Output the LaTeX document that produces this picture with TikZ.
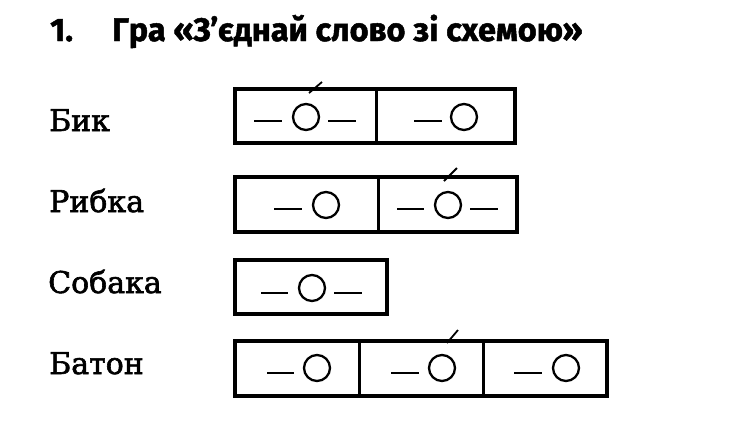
\documentclass[tikz,border=0pt]{standalone}
\usepackage{fontspec}
\setmainfont{DejaVu Serif}
\newfontfamily\titlefont[FakeBold=1.5]{Fira Sans}
\newfontfamily\wordfont[FakeBold=2]{DejaVu Serif}
\begin{document}
\begin{tikzpicture}[x=1pt,y=-1pt,
  boxline/.style={draw=black, line width=3.2pt},
  divline/.style={draw=black, line width=3pt},
  syldash/.style={draw=black, line width=1.8pt},
  ring/.style={draw=black, line width=2.3pt, circle, minimum size=26pt, inner sep=0pt},
  stressline/.style={draw=black, line width=1.8pt},
  word/.style={anchor=base west, inner sep=0pt, font=\wordfont\fontsize{30}{34}\selectfont},
  titletext/.style={anchor=base west, inner sep=0pt, font=\titlefont\bfseries\fontsize{32.5}{36}\selectfont}]
\useasboundingbox[fill=white] (0,0) rectangle (740,432);
% title
\node[titletext] (num) at (50,41) {1.};
\node[titletext] (title) at (112,41) {Гра «З’єднай слово зі схемою»};
% words
\node[word] (w1) at (49,131) {Бик};
\node[word] (w2) at (49,212) {Рибка};
\node[word] (w3) at (48,293) {Собака};
\node[word] (w4) at (49,374) {Батон};
% row 1: Бик
\draw[boxline] (235,89) rectangle (515,143);
\draw[divline] (376,89) -- (376,143);
\draw[syldash] (254,121) -- (282,121);
\node[ring] (r11) at (306,117) {};
\draw[syldash] (328,121) -- (356,121);
\draw[stressline] (309,93) -- (322,82);
\draw[syldash] (414,121) -- (442,121);
\node[ring] (r12) at (464,117) {};
% row 2: Рибка
\draw[boxline] (235,177) rectangle (517,232);
\draw[divline] (378,177) -- (378,232);
\draw[syldash] (274,209) -- (302,209);
\node[ring] (r21) at (326,205) {};
\draw[syldash] (397,209) -- (424,209);
\node[ring] (r22) at (448,205) {};
\draw[syldash] (470,209) -- (498,209);
\draw[stressline] (444,181) -- (457,168);
% row 3: Собака
\draw[boxline] (235,260) rectangle (387,314);
\draw[syldash] (261,293) -- (288,293);
\node[ring] (r31) at (312,288) {};
\draw[syldash] (334,293) -- (362,293);
% row 4: Батон
\draw[boxline] (235,341) rectangle (607,396);
\draw[divline] (359,341) -- (359,396);
\draw[divline] (483,341) -- (483,396);
\draw[syldash] (267,373) -- (294,373);
\node[ring] (r41) at (317,368) {};
\draw[syldash] (391,373) -- (419,373);
\node[ring] (r42) at (442,368) {};
\draw[stressline] (447,343) -- (458,330);
\draw[syldash] (514,373) -- (542,373);
\node[ring] (r43) at (566,368) {};
\end{tikzpicture}
\end{document}
